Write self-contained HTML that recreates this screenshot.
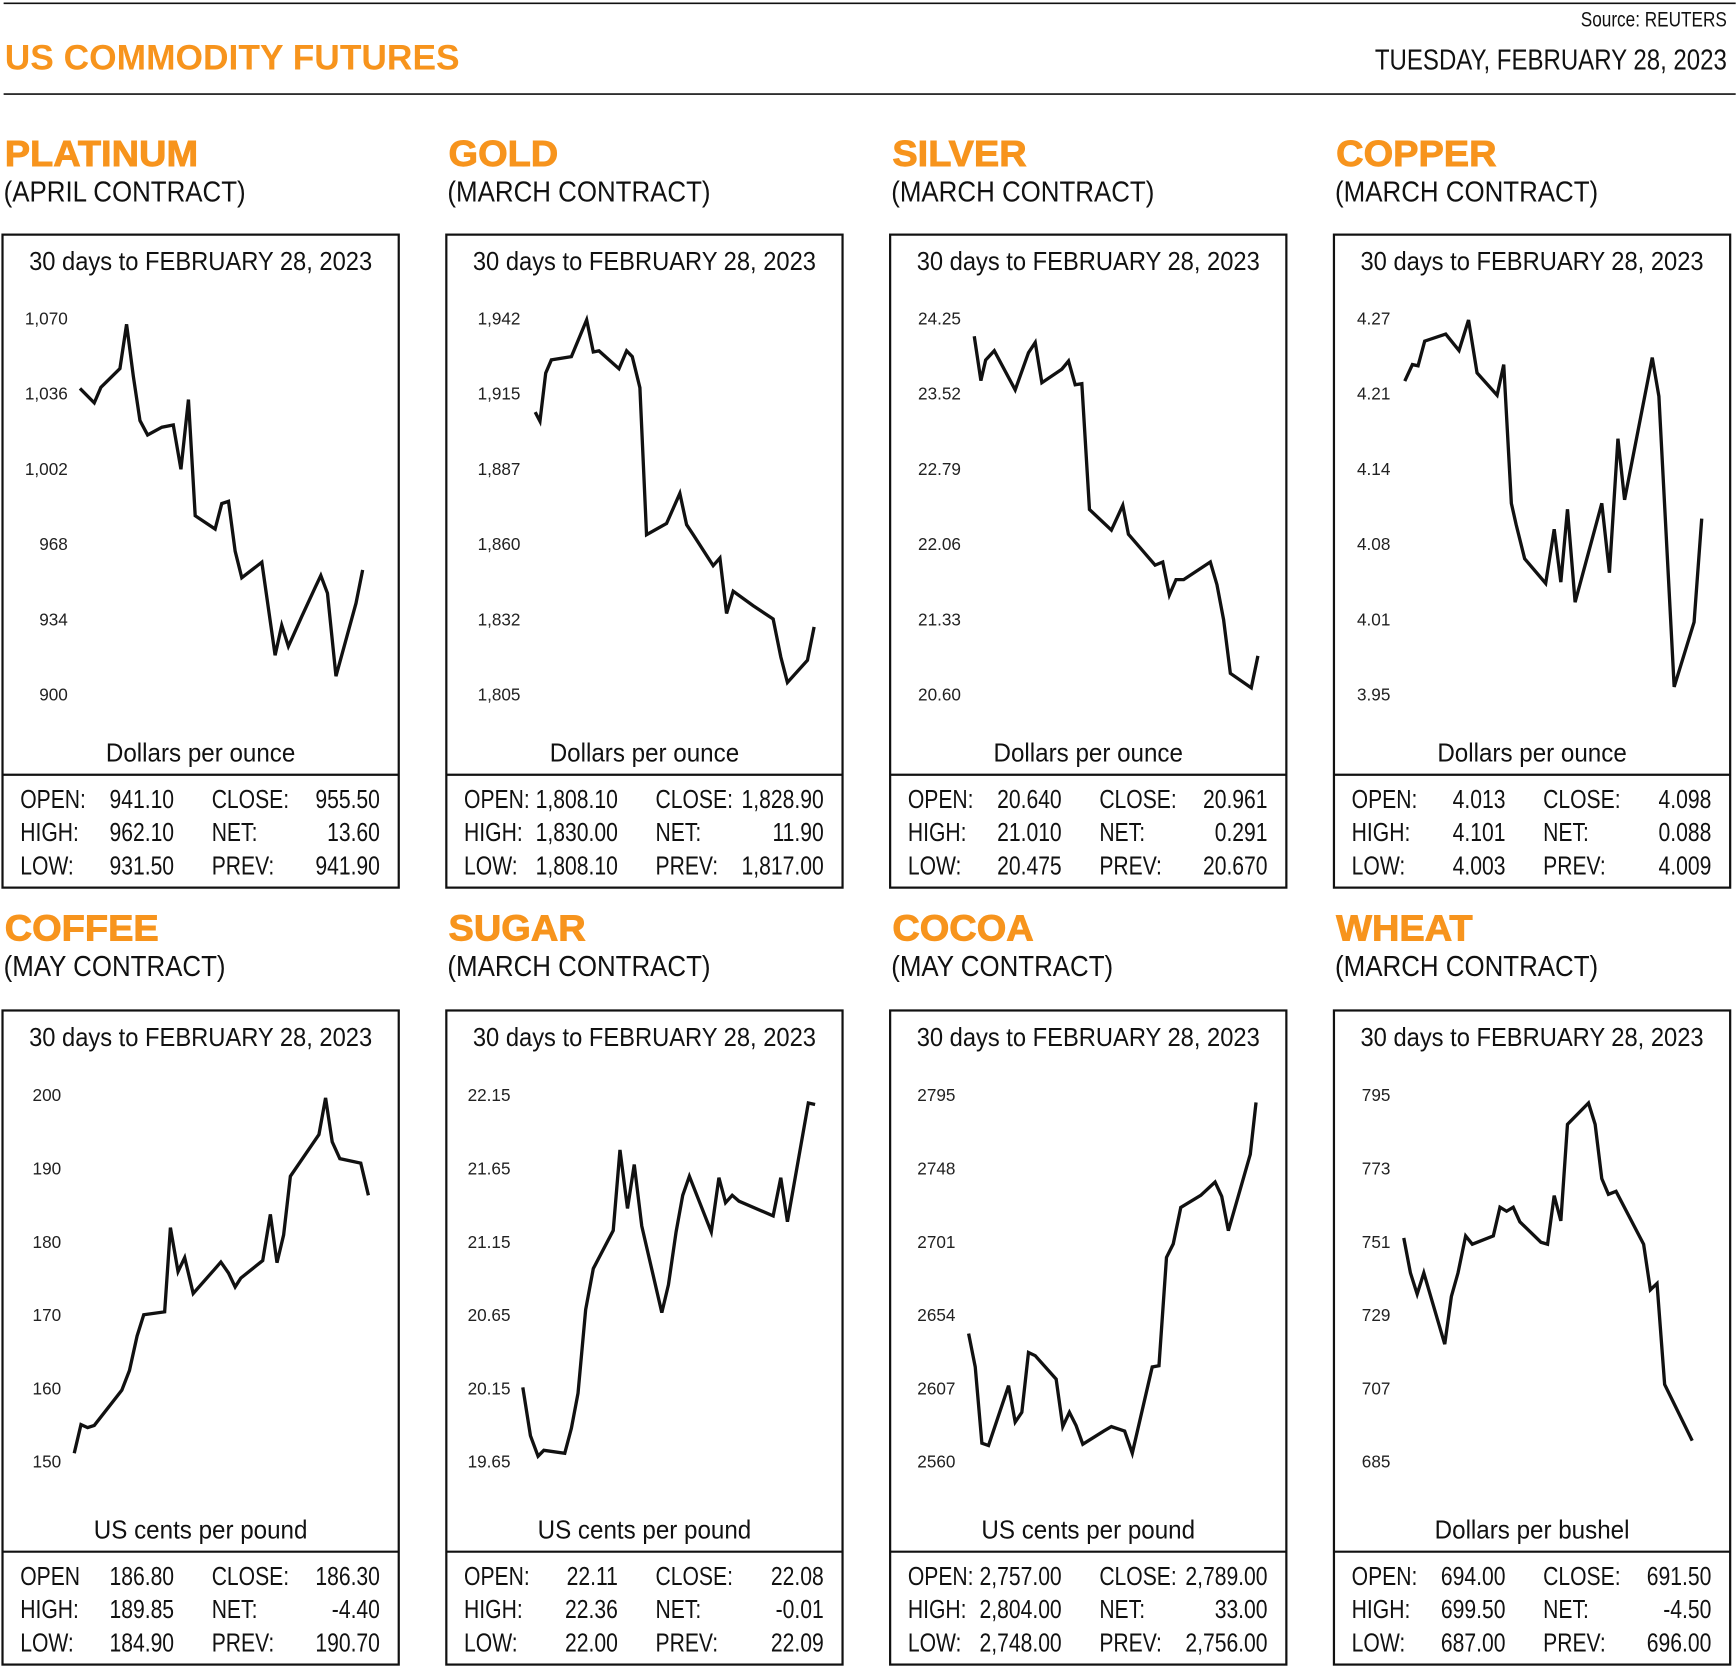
<!DOCTYPE html>
<html><head><meta charset="utf-8"><style>
html,body{margin:0;padding:0;background:#fff;}
svg{display:block;}
text{font-family:"Liberation Sans",sans-serif;fill:#111;}
</style></head><body>
<svg id="root" width="1736" height="1669" viewBox="0 0 1568 1508" xmlns="http://www.w3.org/2000/svg">
<line x1="3" y1="3" x2="1568" y2="3" stroke="#111" stroke-width="1.5"/>
<text x="4" y="63" font-size="32" font-weight="bold" style="fill:#f7941d" textLength="411" lengthAdjust="spacingAndGlyphs">US COMMODITY FUTURES</text>
<text x="1560" y="24" font-size="19" text-anchor="end" textLength="132" lengthAdjust="spacingAndGlyphs">Source: REUTERS</text>
<text x="1560" y="63" font-size="26" text-anchor="end" textLength="318" lengthAdjust="spacingAndGlyphs">TUESDAY, FEBRUARY 28, 2023</text>
<line x1="3" y1="85" x2="1568" y2="85" stroke="#111" stroke-width="1.5"/>
<g id="panels"></g>
</svg>
<script>
// Platinum
const platinumDays=[0,1.5,2.2,4.2,4.9,5.6,6.3,7.1,8.6,9.8,10.6,11.4,12.1,14.2,14.9,15.6,16.3,17,19.1,20.5,21.2,21.9,23.3,24.7,25.3,26,26.9,29,29.7];
const platinumValues=[1038.5,1032,1039,1047.5,1067.5,1044,1024,1017.5,1021,1022,1002,1033.5,981,975,986.5,987.5,965,953,960,918,931.5,922,935.5,948.5,954,946,908.5,941.5,956.5];
const platinumTicks=["1,070","1,036","1,002","968","934","900"];
// Gold
const goldDays=[1.2,1.7,2.3,2.9,5,6.6,7.3,7.9,10,10.8,11.4,12.2,12.9,15,16.4,17.1,17.8,19.9,20.6,21.3,22,24.1,26.2,27,27.7,29.8,30.5];
const goldValues=[1908,1904.7,1922.2,1927,1928.2,1941.6,1929.9,1930.3,1923.8,1930.3,1928.2,1916.9,1863.4,1867.5,1878.4,1867,1863.4,1852.1,1854.9,1834.7,1842.8,1837.5,1832.7,1818.9,1809.6,1817.7,1829.8];
const goldTicks=["1,942","1,915","1,887","1,860","1,832","1,805"];
// Silver
const silverDays=[0.7,1.4,1.9,2.8,5,6.4,7.1,7.8,9.9,10.6,11.3,12,12.8,15.1,16.3,16.9,19.7,20.5,21.2,21.9,22.7,25.5,26.2,26.9,27.6,29.8,30.5];
const silverValues=[24.08,23.65,23.85,23.94,23.56,23.92,24.02,23.63,23.76,23.84,23.61,23.62,22.40,22.20,22.44,22.16,21.86,21.89,21.57,21.72,21.72,21.89,21.67,21.33,20.81,20.67,20.98];
const silverTicks=["24.25","23.52","22.79","22.06","21.33","20.60"];
// Copper
const copperDays=[-0.7,0.1,0.7,1.4,3.6,5,6,6.9,9,9.7,10.5,11,11.9,14.1,15,15.7,16.4,17.2,20,20.8,21.7,22.4,25.3,26,27.6,29.7,30.5];
const copperValues=[4.217,4.231,4.230,4.251,4.257,4.243,4.269,4.224,4.205,4.231,4.113,4.095,4.066,4.045,4.091,4.046,4.108,4.029,4.113,4.054,4.168,4.116,4.237,4.204,3.957,4.012,4.100];
const copperTicks=["4.27","4.21","4.14","4.08","4.01","3.95"];
// Coffee
const coffeeDays=[-0.6,0.1,0.8,1.5,4.4,5.2,6,6.7,8.9,9.5,10.3,11,11.9,14,14.8,15.6,16.3,16.9,19.2,20,20.7,21.4,22.1,25.1,25.8,26.5,27.3,29.5,30.3];
const coffeeValues=[151.2,155.1,154.7,155.0,159.8,162.5,167.2,170.1,170.5,182.0,176.0,177.9,173.0,176.1,177.3,175.8,173.9,175.1,177.5,183.8,177.2,181.0,189.0,194.7,199.7,193.7,191.4,190.8,186.4];
const coffeeTicks=["200","190","180","170","160","150"];
// Sugar
const sugarDays=[-0.1,0.7,1.5,2.1,4.3,5,5.7,6.5,7.3,9.4,10.1,10.9,11.6,12.4,14.5,15.2,16,16.7,17.4,19.7,20.5,21.2,21.9,22.6,26.2,27,27.7,29.9,30.6];
const sugarValues=[20.16,19.83,19.69,19.73,19.71,19.88,20.12,20.69,20.97,21.23,21.78,21.38,21.68,21.26,20.67,20.86,21.22,21.47,21.60,21.22,21.59,21.42,21.47,21.43,21.33,21.59,21.29,22.10,22.09];
const sugarTicks=["22.15","21.65","21.15","20.65","20.15","19.65"];
// Cocoa
const cocoaDays=[0.1,0.8,1.5,2.2,4.3,5,5.7,6.4,7.1,9.3,10,10.7,11.4,12.1,14.3,15.1,16.5,17.3,19.4,20.1,20.9,21.6,22.4,24.5,26,26.7,27.4,29.7,30.3];
const cocoaValues=[2642.4,2621.0,2572.1,2570.6,2609.0,2585.6,2591.9,2630.3,2628.2,2613.2,2582.7,2591.9,2583.4,2571.4,2579.9,2582.7,2579.9,2565.7,2621.0,2621.8,2691.3,2699.9,2723.3,2731.1,2739.6,2730.4,2708.4,2757.4,2790.7];
const cocoaTicks=["2795","2748","2701","2654","2607","2560"];
// Wheat
const wheatDays=[-0.8,-0.1,0.6,1.3,3.5,4.2,4.9,5.7,6.4,8.6,9.3,10,10.7,11.4,13.6,14.3,15,15.7,16.4,18.6,19.3,20,20.7,21.5,24.4,25.1,25.8,26.6,29.5];
const wheatValues=[752.3,741.8,735.4,741.8,720.4,734.7,741.8,752.9,750.4,752.9,761.5,760.3,761.5,757.1,751.0,750.4,765.0,757.4,786.4,792.8,786.4,770.1,765.4,766.3,750.4,736.7,738.6,708.3,691.4];
const wheatTicks=["795","773","751","729","707","685"];

const panelNames=["PLATINUM","GOLD","SILVER","COPPER","COFFEE","SUGAR","COCOA","WHEAT"];
const panelContracts=["(APRIL CONTRACT)","(MARCH CONTRACT)","(MARCH CONTRACT)","(MARCH CONTRACT)","(MAY CONTRACT)","(MARCH CONTRACT)","(MAY CONTRACT)","(MARCH CONTRACT)"];
const panelUnits=["Dollars per ounce","Dollars per ounce","Dollars per ounce","Dollars per ounce","US cents per pound","US cents per pound","US cents per pound","Dollars per bushel"];
const statLabelsB=["CLOSE:","NET:","PREV:"];
const statOpen=["941.10","1,808.10","20.640","4.013","186.80","22.11","2,757.00","694.00"];
const statHigh=["962.10","1,830.00","21.010","4.101","189.85","22.36","2,804.00","699.50"];
const statLow=["931.50","1,808.10","20.475","4.003","184.90","22.00","2,748.00","687.00"];
const statClose=["955.50","1,828.90","20.961","4.098","186.30","22.08","2,789.00","691.50"];
const statNet=["13.60","11.90","0.291","0.088","-4.40","-0.01","33.00","-4.50"];
const statPrev=["941.90","1,817.00","20.670","4.009","190.70","22.09","2,756.00","696.00"];

const allDays=[platinumDays,goldDays,silverDays,copperDays,coffeeDays,sugarDays,cocoaDays,wheatDays];
const allValues=[platinumValues,goldValues,silverValues,copperValues,coffeeValues,sugarValues,cocoaValues,wheatValues];
const allTicks=[platinumTicks,goldTicks,silverTicks,copperTicks,coffeeTicks,sugarTicks,cocoaTicks,wheatTicks];
const tickRight=[59,67,64,51,53,58,59,51];

const NS="http://www.w3.org/2000/svg";
const panelsG=document.getElementById('panels');
function mk(tag,attrs,parent,txt){const e=document.createElementNS(NS,tag);for(const k in attrs)e.setAttribute(k,attrs[k]);if(txt!==undefined)e.textContent=txt;parent.appendChild(e);return e;}
function stxt(x,y,sx,attrs,parent,txt){attrs.x=0;attrs.y=0;attrs.transform='translate('+x+','+y+') scale('+sx+',1)';return mk('text',attrs,parent,txt);}
function num(s){return parseFloat(s.replace(/,/g,''));}

for(let i=0;i<8;i++){
  const col=i%4,row=Math.floor(i/4);
  const L=2+col*401;
  const top=row===0?212:913;
  const bottom=row===0?802:1504;
  const divY=row===0?700:1402;
  const nameY=row===0?150:850;
  const plotTop=top+(row===0?76:77);
  const plotBot=top+(row===0?416:408);
  const key=panelNames[i].toLowerCase();
  const g=mk('g',{},panelsG);
  
  
  const nm=stxt(L+2,nameY,1.04,{'font-size':33,'font-weight':'bold',style:'fill:#f7941d;stroke:#f7941d;stroke-width:0.8'},g,panelNames[i]);
  
  
  const ct=stxt(L+1,nameY+32,0.9,{'font-size':26},g,panelContracts[i]);
  
  
  const box=mk('rect',{x:L,y:top,width:358,height:bottom-top,fill:'none',stroke:'#111','stroke-width':2},g);
  
  
  const dv=mk('line',{x1:L,y1:divY,x2:L+358,y2:divY,stroke:'#111','stroke-width':2},g);
  
  
  const st=mk('text',{x:L+179,y:top+32,'font-size':23,'text-anchor':'middle',textLength:310,lengthAdjust:'spacingAndGlyphs'},g,'30 days to FEBRUARY 28, 2023');
  
  
  const ticks=allTicks[i];
  const vMax=num(ticks[0]),vMin=num(ticks[ticks.length-1]);
  const yS=v=>plotTop+(vMax-v)/(vMax-vMin)*(plotBot-plotTop);
  const xS=d=>L+61.4+(d+1)*8.6;
  ticks.forEach((t,k)=>{
    const ty=plotTop+k*(plotBot-plotTop)/(ticks.length-1);
    const tt=mk('text',{x:L+tickRight[i],y:ty+5,'font-size':15.5,'text-anchor':'end',style:'fill:#222'},g,t);
    
    
  });
  const pts=allDays[i].map((d,k)=>xS(d).toFixed(1)+','+yS(allValues[i][k]).toFixed(1)).join(' ');
  const pl=mk('polyline',{points:pts,fill:'none',stroke:'#111','stroke-width':3,'stroke-linejoin':'miter'},g);
  
  
  const un=stxt(L+179,divY-12,0.95,{'font-size':23,'text-anchor':'middle'},g,panelUnits[i]);
  
  
  const labA=[i===4?'OPEN':'OPEN:','HIGH:','LOW:'];
  const valA=[statOpen[i],statHigh[i],statLow[i]];
  const valB=[statClose[i],statNet[i],statPrev[i]];
  for(let r=0;r<3;r++){
    const y=divY+30+r*30;
    const a=stxt(L+16,y,0.83,{'font-size':23},g,labA[r]);
    
    
    const b=stxt(L+155,y,0.83,{'font-size':23,'text-anchor':'end'},g,valA[r]);
    
    
    const c=stxt(L+189,y,0.83,{'font-size':23},g,statLabelsB[r]);
    
    
    const d=stxt(L+341,y,0.83,{'font-size':23,'text-anchor':'end'},g,valB[r]);
    
    
  }
}
</script>
</body></html>
